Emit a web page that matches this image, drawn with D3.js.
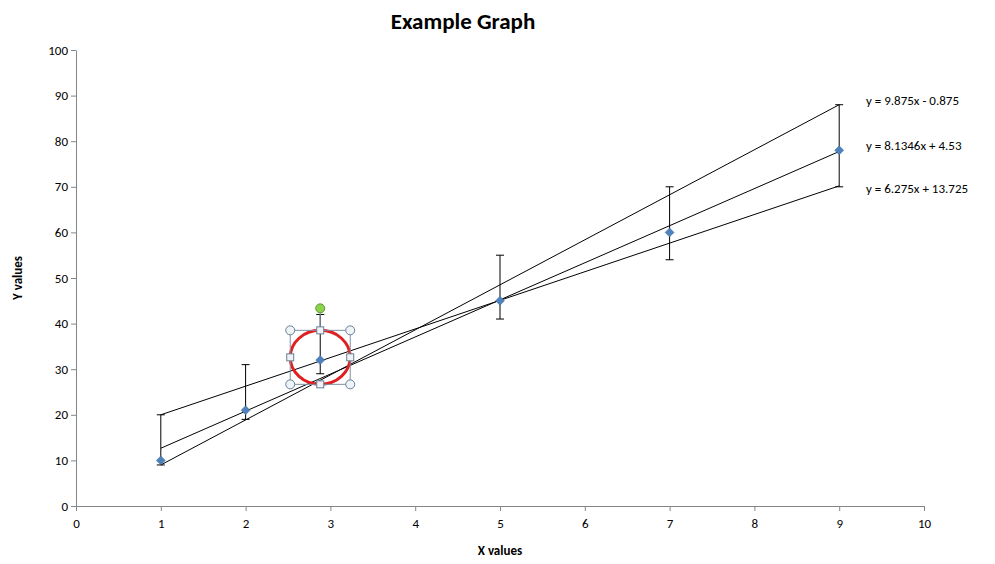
<!DOCTYPE html>
<html><head><meta charset="utf-8">
<script src="https://cdn.jsdelivr.net/npm/d3@7"></script>
<style>body{margin:0;background:#fff}</style>
</head><body>
<svg id="c" width="995" height="564"></svg>
<script>
// data
var xVals = [1, 2, 2.88, 5, 7, 9];
var yVals = [10, 21, 32, 45, 60, 78];
var errLow = [9, 19, 29, 41, 54, 70];
var errHigh = [20, 31, 42, 55, 70, 88];
var trends = [
  {m: 9.875, b: -0.875, label: "y = 9.875x - 0.875"},
  {m: 8.1346, b: 4.53, label: "y = 8.1346x + 4.53"},
  {m: 6.275, b: 13.725, label: "y = 6.275x + 13.725"}
];
var xTicks = d3.range(0, 11, 1);
var yTicks = d3.range(0, 101, 10);

var svg = d3.select("#c");
var x = d3.scaleLinear().domain([0, 10]).range([76, 924]);
var y = d3.scaleLinear().domain([0, 100]).range([506, 50]);
var font = "Calibri, Carlito, 'Open Sans', Arial, sans-serif";

svg.append("text").attr("x", 463).attr("y", 29).attr("text-anchor", "middle")
  .attr("font-family", font).attr("font-weight", "bold").attr("font-size", 23).text("Example Graph");

// axes
var xa = svg.append("g").attr("transform", "translate(0,506)")
  .call(d3.axisBottom(x).tickValues(xTicks).tickSize(5).tickSizeOuter(0));
var ya = svg.append("g").attr("transform", "translate(76,0)")
  .call(d3.axisLeft(y).tickValues(yTicks).tickSize(5).tickSizeOuter(0));
[xa, ya].forEach(function(a){
  a.selectAll("path,line").attr("stroke", "#868686");
  a.selectAll("text").attr("font-family", font).attr("font-size", 13).attr("fill", "#000");
});
xa.selectAll("text").attr("dy", "1.1em");

svg.append("text").attr("x", 500).attr("y", 555).attr("text-anchor", "middle")
  .attr("font-family", font).attr("font-weight", "bold").attr("font-size", 13).text("X values");
svg.append("text").attr("transform", "translate(22,278) rotate(-90)").attr("text-anchor", "middle")
  .attr("font-family", font).attr("font-weight", "bold").attr("font-size", 13).text("Y values");

// trend lines
trends.forEach(function(t){
  svg.append("line").attr("x1", x(1)).attr("y1", y(t.m + t.b))
    .attr("x2", x(9)).attr("y2", y(t.m * 9 + t.b)).attr("stroke", "#000").attr("stroke-width", 1);
});
var labelY = [105, 150, 193];
trends.forEach(function(t, i){
  svg.append("text").attr("x", 866).attr("y", labelY[i]).attr("font-family", font)
    .attr("font-size", 13).text(t.label);
});

// error bars
xVals.forEach(function(v, i){
  var g = svg.append("g").attr("stroke", "#000").attr("stroke-width", 1);
  g.append("line").attr("x1", x(v)).attr("x2", x(v)).attr("y1", y(errLow[i])).attr("y2", y(errHigh[i]));
  [errLow[i], errHigh[i]].forEach(function(e){
    g.append("line").attr("x1", x(v) - 4).attr("x2", x(v) + 4).attr("y1", y(e)).attr("y2", y(e));
  });
});

// markers (square rotated 45deg)
svg.selectAll(".pt").data(xVals).enter().append("path")
  .attr("d", d3.symbol().type(d3.symbolSquare).size(40))
  .attr("transform", function(d, i){ return "translate(" + x(d) + "," + y(yVals[i]) + ") rotate(45)"; })
  .attr("fill", "#4f81bd").attr("stroke", "#3a6ea5").attr("stroke-width", 0.5);

// selected circle shape annotation
var cx = x(2.88), cy = y(32.6), r = 30, ry = 27;
svg.append("ellipse").attr("cx", cx).attr("cy", cy).attr("rx", r).attr("ry", ry)
  .attr("fill", "none").attr("stroke", "#e02020").attr("stroke-width", 3);
svg.append("rect").attr("x", cx - r).attr("y", cy - ry).attr("width", 2 * r).attr("height", 2 * ry)
  .attr("fill", "none").attr("stroke", "#7f8fa6").attr("stroke-width", 1);
svg.append("line").attr("x1", cx).attr("x2", cx).attr("y1", cy - ry).attr("y2", cy - ry - 20).attr("stroke", "#7f8fa6");
[[-1,-1],[1,-1],[-1,1],[1,1]].forEach(function(p){
  svg.append("circle").attr("cx", cx + p[0] * r).attr("cy", cy + p[1] * ry).attr("r", 4.5)
    .attr("fill", "#eef3f7").attr("stroke", "#6a7f95");
});
[[0,-1],[0,1],[-1,0],[1,0]].forEach(function(p){
  svg.append("rect").attr("x", cx + p[0] * r - 3.5).attr("y", cy + p[1] * ry - 3.5).attr("width", 7).attr("height", 7)
    .attr("fill", "#eef3f7").attr("stroke", "#6a7f95");
});
svg.append("circle").attr("cx", cx).attr("cy", cy - ry - 22).attr("r", 4.5)
  .attr("fill", "#8fd14f").attr("stroke", "#5a9a2a");
</script>
</body></html>
